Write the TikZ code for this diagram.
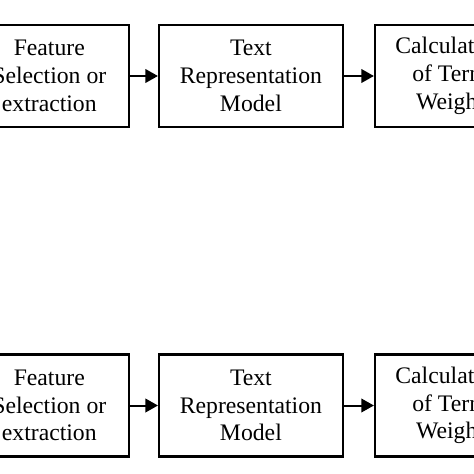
\documentclass[tikz,border=0pt]{standalone}
\usepackage{fontspec}
\setmainfont{Liberation Serif}
\usetikzlibrary{arrows.meta}
\begin{document}
\begin{tikzpicture}[x=1pt,y=-1pt,
  procbox/.style={draw=black, line width=2.2pt, align=center, inner sep=0pt,
    minimum height=102pt, font=\fontsize{23.7}{27.7}\selectfont},
  flow/.style={line width=2pt, -{Triangle[length=12.5pt,width=13.5pt]}}]
\useasboundingbox (0,0) rectangle (474,474);
\fill[white] (0,0) rectangle (474,474);
\clip (0,0) rectangle (474,474);
% top row
\node[procbox, minimum width=160pt] (a1) at (49.3,76) {Feature\\Selection or\\extraction};
\node[procbox, minimum width=183.7pt] (a2) at (250.9,76) {Text\\Representation\\Model};
\node[procbox, minimum width=150pt] (a3) at (450,76) {Calculation\\of Term\\Weight};
\draw[flow] (a1) -- (a2);
\draw[flow] (a2) -- (a3);
% bottom row
\node[procbox, minimum width=160pt] (b1) at (49.3,405.5) {Feature\\Selection or\\extraction};
\node[procbox, minimum width=183.7pt] (b2) at (250.9,405.5) {Text\\Representation\\Model};
\node[procbox, minimum width=150pt] (b3) at (450,405.5) {Calculation\\of Term\\Weight};
\draw[flow] (b1) -- (b2);
\draw[flow] (b2) -- (b3);
\end{tikzpicture}
\end{document}
